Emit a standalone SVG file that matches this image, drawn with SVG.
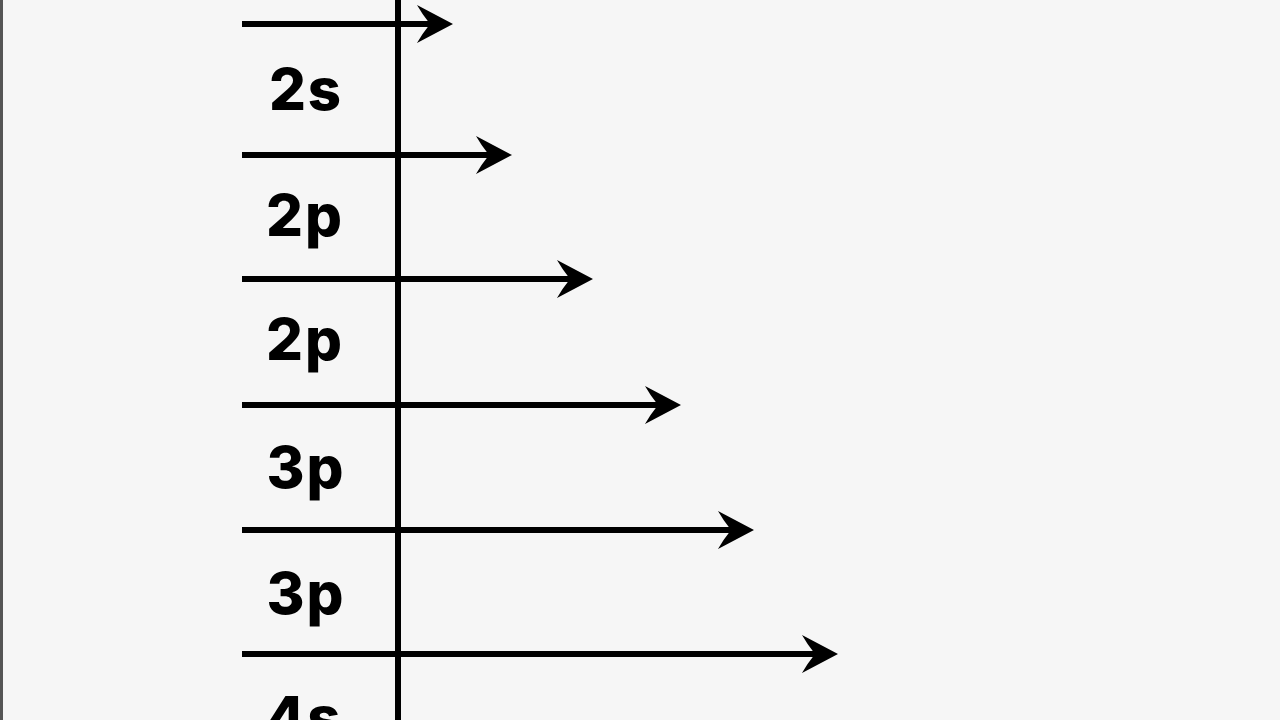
<svg xmlns="http://www.w3.org/2000/svg" width="1280" height="720" viewBox="0 0 1280 720">
<defs>
<style>
.ln{stroke:#000;stroke-width:6;fill:none}
.lbl{font-family:Inter,"Liberation Sans",sans-serif;font-weight:800;font-size:58px;letter-spacing:2px;fill:#000;text-anchor:middle}
</style>
<path id="ah" d="M0 0 L-36 -19 Q-31 -10 -23 0 Q-31 10 -36 19 Z" fill="#000"/>
</defs>
<rect width="1280" height="720" fill="#f6f6f6"/>
<rect x="0" y="0" width="3" height="720" fill="#555"/>
<g id="axis"><line class="ln" x1="398" y1="0" x2="398" y2="720" style="stroke-width:6"/></g>
<g id="connectors">
<line class="ln" x1="242" y1="24" x2="440" y2="24"/><use href="#ah" x="453" y="24"/>
<line class="ln" x1="242" y1="155" x2="500" y2="155"/><use href="#ah" x="512" y="155"/>
<line class="ln" x1="242" y1="279" x2="580" y2="279"/><use href="#ah" x="593" y="279"/>
<line class="ln" x1="242" y1="405" x2="668" y2="405"/><use href="#ah" x="681" y="405"/>
<line class="ln" x1="242" y1="530" x2="740" y2="530"/><use href="#ah" x="754" y="530"/>
<line class="ln" x1="242" y1="654" x2="825" y2="654"/><use href="#ah" x="838" y="654"/>
</g>
<g id="label-2s"><text class="lbl" x="306" y="110">2s</text></g>
<g id="label-2p-1"><text class="lbl" x="305" y="236">2p</text></g>
<g id="label-2p-2"><text class="lbl" x="305" y="360">2p</text></g>
<g id="label-3p-1"><text class="lbl" x="306" y="488">3p</text></g>
<g id="label-3p-2"><text class="lbl" x="306" y="614">3p</text></g>
<g id="label-4s"><text class="lbl" x="304" y="738">4s</text></g>
</svg>
